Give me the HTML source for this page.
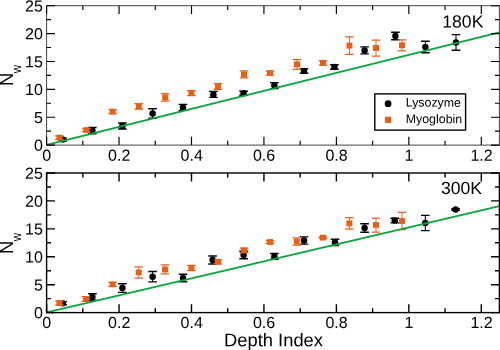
<!DOCTYPE html>
<html><head><meta charset="utf-8"><title>Depth Index</title>
<style>
html,body{margin:0;padding:0;background:#fff;}
svg{display:block;}
text{font-family:"Liberation Sans",sans-serif;fill:#000;}
.tk{font-size:16.0px;}
.ax{font-size:18.35px;}
.nn{font-size:18.3px;}
.sub{font-size:13px;}
.lg{font-size:12.4px;}
.tt{font-size:17.6px;}
</style></head><body>
<svg width="500" height="350" viewBox="0 0 500 350">
<rect width="500" height="350" fill="#fff"/>
<!-- top panel -->
<path d="M62.6 138.1V141.1" stroke="#000" stroke-width="1.05" fill="none"/>
<path d="M58.3 138.1H66.9M58.3 141.1H66.9" stroke="#000" stroke-width="1.4" fill="none"/>
<circle cx="62.6" cy="139.6" r="3.25" fill="#000"/>
<path d="M92.3 127.5V133.7" stroke="#000" stroke-width="1.05" fill="none"/>
<path d="M88.0 127.5H96.6M88.0 133.7H96.6" stroke="#000" stroke-width="1.4" fill="none"/>
<circle cx="92.3" cy="130.6" r="3.25" fill="#000"/>
<path d="M122.4 123.0V129.0" stroke="#000" stroke-width="1.05" fill="none"/>
<path d="M118.1 123.0H126.7M118.1 129.0H126.7" stroke="#000" stroke-width="1.4" fill="none"/>
<circle cx="122.4" cy="126.0" r="3.25" fill="#000"/>
<path d="M152.6 108.7V118.3" stroke="#000" stroke-width="1.05" fill="none"/>
<path d="M148.3 108.7H156.9M148.3 118.3H156.9" stroke="#000" stroke-width="1.4" fill="none"/>
<circle cx="152.6" cy="113.5" r="3.25" fill="#000"/>
<path d="M183.0 104.4V110.4" stroke="#000" stroke-width="1.05" fill="none"/>
<path d="M178.7 104.4H187.3M178.7 110.4H187.3" stroke="#000" stroke-width="1.4" fill="none"/>
<circle cx="183.0" cy="107.4" r="3.25" fill="#000"/>
<path d="M213.4 91.4V97.4" stroke="#000" stroke-width="1.05" fill="none"/>
<path d="M209.1 91.4H217.7M209.1 97.4H217.7" stroke="#000" stroke-width="1.4" fill="none"/>
<circle cx="213.4" cy="94.4" r="3.25" fill="#000"/>
<path d="M243.6 91.3V95.3" stroke="#000" stroke-width="1.05" fill="none"/>
<path d="M239.3 91.3H247.9M239.3 95.3H247.9" stroke="#000" stroke-width="1.4" fill="none"/>
<circle cx="243.6" cy="93.3" r="3.25" fill="#000"/>
<path d="M274.4 82.6V88.6" stroke="#000" stroke-width="1.05" fill="none"/>
<path d="M270.1 82.6H278.7M270.1 88.6H278.7" stroke="#000" stroke-width="1.4" fill="none"/>
<circle cx="274.4" cy="85.6" r="3.25" fill="#000"/>
<path d="M304.0 68.8V73.2" stroke="#000" stroke-width="1.05" fill="none"/>
<path d="M299.7 68.8H308.3M299.7 73.2H308.3" stroke="#000" stroke-width="1.4" fill="none"/>
<circle cx="304.0" cy="71.0" r="3.25" fill="#000"/>
<path d="M334.4 64.8V69.2" stroke="#000" stroke-width="1.05" fill="none"/>
<path d="M330.1 64.8H338.7M330.1 69.2H338.7" stroke="#000" stroke-width="1.4" fill="none"/>
<circle cx="334.4" cy="67.0" r="3.25" fill="#000"/>
<path d="M364.6 46.9V53.9" stroke="#000" stroke-width="1.05" fill="none"/>
<path d="M360.3 46.9H368.9M360.3 53.9H368.9" stroke="#000" stroke-width="1.4" fill="none"/>
<circle cx="364.6" cy="50.4" r="3.25" fill="#000"/>
<path d="M395.4 32.2V39.8" stroke="#000" stroke-width="1.05" fill="none"/>
<path d="M391.1 32.2H399.7M391.1 39.8H399.7" stroke="#000" stroke-width="1.4" fill="none"/>
<circle cx="395.4" cy="36.0" r="3.25" fill="#000"/>
<path d="M425.4 41.2V52.8" stroke="#000" stroke-width="1.05" fill="none"/>
<path d="M421.1 41.2H429.7M421.1 52.8H429.7" stroke="#000" stroke-width="1.4" fill="none"/>
<circle cx="425.4" cy="47.0" r="3.25" fill="#000"/>
<path d="M456.0 34.6V50.2" stroke="#000" stroke-width="1.05" fill="none"/>
<path d="M451.7 34.6H460.3M451.7 50.2H460.3" stroke="#000" stroke-width="1.4" fill="none"/>
<circle cx="456.0" cy="42.4" r="3.25" fill="#000"/>
<path d="M59.4 135.8V139.4" stroke="#E95F18" stroke-width="0.95" fill="none"/>
<path d="M55.1 135.8H63.7M55.1 139.4H63.7" stroke="#E95F18" stroke-width="1.25" fill="none"/>
<rect x="56.4" y="134.7" width="6.0" height="5.8" fill="#E95F18"/>
<path d="M86.4 128.5V131.5" stroke="#E95F18" stroke-width="0.95" fill="none"/>
<path d="M82.1 128.5H90.7M82.1 131.5H90.7" stroke="#E95F18" stroke-width="1.25" fill="none"/>
<rect x="83.4" y="127.1" width="6.0" height="5.8" fill="#E95F18"/>
<path d="M112.6 109.5V113.7" stroke="#E95F18" stroke-width="0.95" fill="none"/>
<path d="M108.3 109.5H116.9M108.3 113.7H116.9" stroke="#E95F18" stroke-width="1.25" fill="none"/>
<rect x="109.6" y="108.7" width="6.0" height="5.8" fill="#E95F18"/>
<path d="M138.8 103.6V109.2" stroke="#E95F18" stroke-width="0.95" fill="none"/>
<path d="M134.5 103.6H143.1M134.5 109.2H143.1" stroke="#E95F18" stroke-width="1.25" fill="none"/>
<rect x="135.8" y="103.5" width="6.0" height="5.8" fill="#E95F18"/>
<path d="M165.2 93.6V101.2" stroke="#E95F18" stroke-width="0.95" fill="none"/>
<path d="M160.9 93.6H169.5M160.9 101.2H169.5" stroke="#E95F18" stroke-width="1.25" fill="none"/>
<rect x="162.2" y="94.5" width="6.0" height="5.8" fill="#E95F18"/>
<path d="M191.4 90.5V95.5" stroke="#E95F18" stroke-width="0.95" fill="none"/>
<path d="M187.1 90.5H195.7M187.1 95.5H195.7" stroke="#E95F18" stroke-width="1.25" fill="none"/>
<rect x="188.4" y="90.1" width="6.0" height="5.8" fill="#E95F18"/>
<path d="M218.0 83.5V89.3" stroke="#E95F18" stroke-width="0.95" fill="none"/>
<path d="M213.7 83.5H222.3M213.7 89.3H222.3" stroke="#E95F18" stroke-width="1.25" fill="none"/>
<rect x="215.0" y="83.5" width="6.0" height="5.8" fill="#E95F18"/>
<path d="M244.0 70.9V77.9" stroke="#E95F18" stroke-width="0.95" fill="none"/>
<path d="M239.7 70.9H248.3M239.7 77.9H248.3" stroke="#E95F18" stroke-width="1.25" fill="none"/>
<rect x="241.0" y="71.5" width="6.0" height="5.8" fill="#E95F18"/>
<path d="M270.0 71.0V75.0" stroke="#E95F18" stroke-width="0.95" fill="none"/>
<path d="M265.7 71.0H274.3M265.7 75.0H274.3" stroke="#E95F18" stroke-width="1.25" fill="none"/>
<rect x="267.0" y="70.1" width="6.0" height="5.8" fill="#E95F18"/>
<path d="M297.0 59.5V69.3" stroke="#E95F18" stroke-width="0.95" fill="none"/>
<path d="M292.7 59.5H301.3M292.7 69.3H301.3" stroke="#E95F18" stroke-width="1.25" fill="none"/>
<rect x="294.0" y="61.5" width="6.0" height="5.8" fill="#E95F18"/>
<path d="M323.0 60.6V65.0" stroke="#E95F18" stroke-width="0.95" fill="none"/>
<path d="M318.7 60.6H327.3M318.7 65.0H327.3" stroke="#E95F18" stroke-width="1.25" fill="none"/>
<rect x="320.0" y="59.9" width="6.0" height="5.8" fill="#E95F18"/>
<path d="M349.4 36.8V54.4" stroke="#E95F18" stroke-width="0.95" fill="none"/>
<path d="M345.1 36.8H353.7M345.1 54.4H353.7" stroke="#E95F18" stroke-width="1.25" fill="none"/>
<rect x="346.4" y="42.7" width="6.0" height="5.8" fill="#E95F18"/>
<path d="M376.0 40.0V56.0" stroke="#E95F18" stroke-width="0.95" fill="none"/>
<path d="M371.7 40.0H380.3M371.7 56.0H380.3" stroke="#E95F18" stroke-width="1.25" fill="none"/>
<rect x="373.0" y="45.1" width="6.0" height="5.8" fill="#E95F18"/>
<path d="M402.0 39.8V50.8" stroke="#E95F18" stroke-width="0.95" fill="none"/>
<path d="M397.7 39.8H406.3M397.7 50.8H406.3" stroke="#E95F18" stroke-width="1.25" fill="none"/>
<rect x="399.0" y="42.4" width="6.0" height="5.8" fill="#E95F18"/>
<path d="M46.6 144.9L499.4 32.3" stroke="#08A53C" stroke-width="1.9" fill="none"/>
<rect x="46.6" y="5.7" width="452.8" height="139.4" fill="none" stroke="#444" stroke-width="1.0"/>
<path d="M46.60 145.1v-8.4M46.60 5.7v8.4M82.82 145.1v-4.4M82.82 5.7v4.4M119.05 145.1v-8.4M119.05 5.7v8.4M155.27 145.1v-4.4M155.27 5.7v4.4M191.50 145.1v-8.4M191.50 5.7v8.4M227.72 145.1v-4.4M227.72 5.7v4.4M263.94 145.1v-8.4M263.94 5.7v8.4M300.17 145.1v-4.4M300.17 5.7v4.4M336.39 145.1v-8.4M336.39 5.7v8.4M372.62 145.1v-4.4M372.62 5.7v4.4M408.84 145.1v-8.4M408.84 5.7v8.4M445.06 145.1v-4.4M445.06 5.7v4.4M481.29 145.1v-8.4M481.29 5.7v8.4M46.6 145.10h8.4M499.4 145.10h-8.4M46.6 131.16h4.4M499.4 131.16h-4.4M46.6 117.22h8.4M499.4 117.22h-8.4M46.6 103.28h4.4M499.4 103.28h-4.4M46.6 89.34h8.4M499.4 89.34h-8.4M46.6 75.40h4.4M499.4 75.40h-4.4M46.6 61.46h8.4M499.4 61.46h-8.4M46.6 47.52h4.4M499.4 47.52h-4.4M46.6 33.58h8.4M499.4 33.58h-8.4M46.6 19.64h4.4M499.4 19.64h-4.4M46.6 5.70h8.4M499.4 5.70h-8.4" stroke="#000" stroke-width="1.15" fill="none"/>
<text transform="translate(46.8 160.7) rotate(0.04)" text-anchor="middle" class="tk">0</text>
<text transform="translate(119.2 160.7) rotate(0.04)" text-anchor="middle" class="tk">0.2</text>
<text transform="translate(191.7 160.7) rotate(0.04)" text-anchor="middle" class="tk">0.4</text>
<text transform="translate(264.1 160.7) rotate(0.04)" text-anchor="middle" class="tk">0.6</text>
<text transform="translate(336.6 160.7) rotate(0.04)" text-anchor="middle" class="tk">0.8</text>
<text transform="translate(409.0 160.7) rotate(0.04)" text-anchor="middle" class="tk">1</text>
<text transform="translate(481.5 160.7) rotate(0.04)" text-anchor="middle" class="tk">1.2</text>
<text transform="translate(42.8 150.85) rotate(0.04)" text-anchor="end" class="tk">0</text>
<text transform="translate(42.8 122.97) rotate(0.04)" text-anchor="end" class="tk">5</text>
<text transform="translate(42.8 95.09) rotate(0.04)" text-anchor="end" class="tk">10</text>
<text transform="translate(42.8 67.21) rotate(0.04)" text-anchor="end" class="tk">15</text>
<text transform="translate(42.8 39.33) rotate(0.04)" text-anchor="end" class="tk">20</text>
<text transform="translate(42.8 11.45) rotate(0.04)" text-anchor="end" class="tk">25</text>
<text transform="translate(442.3 27.5) rotate(0.04)" class="tt">180K</text>
<rect x="374.8" y="93.9" width="90.8" height="36.2" fill="#fff" stroke="#000" stroke-width="1.4"/>
<circle cx="388.1" cy="103.7" r="3.4" fill="#000"/>
<rect x="385" y="116.7" width="6.2" height="6.2" fill="#E95F18"/>
<text transform="translate(405.7 106.6) rotate(0.04)" class="lg">Lysozyme</text>
<text transform="translate(405.7 123.1) rotate(0.04)" class="lg">Myoglobin</text>
<text transform="translate(13.4 86.0) rotate(-90)" class="nn">N</text><text transform="translate(20.7 73.2) rotate(-90) scale(0.89 1.02)" class="sub">w</text>
<!-- bottom panel -->
<path d="M62.6 301.6V304.8" stroke="#000" stroke-width="1.05" fill="none"/>
<path d="M58.3 301.6H66.9M58.3 304.8H66.9" stroke="#000" stroke-width="1.4" fill="none"/>
<circle cx="62.6" cy="303.2" r="3.25" fill="#000"/>
<path d="M92.4 293.8V300.2" stroke="#000" stroke-width="1.05" fill="none"/>
<path d="M88.1 293.8H96.7M88.1 300.2H96.7" stroke="#000" stroke-width="1.4" fill="none"/>
<circle cx="92.4" cy="297.0" r="3.25" fill="#000"/>
<path d="M122.4 283.8V292.4" stroke="#000" stroke-width="1.05" fill="none"/>
<path d="M118.1 283.8H126.7M118.1 292.4H126.7" stroke="#000" stroke-width="1.4" fill="none"/>
<circle cx="122.4" cy="288.1" r="3.25" fill="#000"/>
<path d="M152.6 271.5V281.9" stroke="#000" stroke-width="1.05" fill="none"/>
<path d="M148.3 271.5H156.9M148.3 281.9H156.9" stroke="#000" stroke-width="1.4" fill="none"/>
<circle cx="152.6" cy="276.7" r="3.25" fill="#000"/>
<path d="M183.0 274.3V281.7" stroke="#000" stroke-width="1.05" fill="none"/>
<path d="M178.7 274.3H187.3M178.7 281.7H187.3" stroke="#000" stroke-width="1.4" fill="none"/>
<circle cx="183.0" cy="278.0" r="3.25" fill="#000"/>
<path d="M212.6 256.0V264.0" stroke="#000" stroke-width="1.05" fill="none"/>
<path d="M208.3 256.0H216.9M208.3 264.0H216.9" stroke="#000" stroke-width="1.4" fill="none"/>
<circle cx="212.6" cy="260.0" r="3.25" fill="#000"/>
<path d="M243.6 251.2V258.8" stroke="#000" stroke-width="1.05" fill="none"/>
<path d="M239.3 251.2H247.9M239.3 258.8H247.9" stroke="#000" stroke-width="1.4" fill="none"/>
<circle cx="243.6" cy="255.0" r="3.25" fill="#000"/>
<path d="M274.4 253.5V259.3" stroke="#000" stroke-width="1.05" fill="none"/>
<path d="M270.1 253.5H278.7M270.1 259.3H278.7" stroke="#000" stroke-width="1.4" fill="none"/>
<circle cx="274.4" cy="256.4" r="3.25" fill="#000"/>
<path d="M304.0 236.9V244.1" stroke="#000" stroke-width="1.05" fill="none"/>
<path d="M299.7 236.9H308.3M299.7 244.1H308.3" stroke="#000" stroke-width="1.4" fill="none"/>
<circle cx="304.0" cy="240.5" r="3.25" fill="#000"/>
<path d="M335.0 239.3V245.5" stroke="#000" stroke-width="1.05" fill="none"/>
<path d="M330.7 239.3H339.3M330.7 245.5H339.3" stroke="#000" stroke-width="1.4" fill="none"/>
<circle cx="335.0" cy="242.4" r="3.25" fill="#000"/>
<path d="M364.6 223.7V232.3" stroke="#000" stroke-width="1.05" fill="none"/>
<path d="M360.3 223.7H368.9M360.3 232.3H368.9" stroke="#000" stroke-width="1.4" fill="none"/>
<circle cx="364.6" cy="228.0" r="3.25" fill="#000"/>
<path d="M394.7 218.3V222.9" stroke="#000" stroke-width="1.05" fill="none"/>
<path d="M390.4 218.3H399.0M390.4 222.9H399.0" stroke="#000" stroke-width="1.4" fill="none"/>
<circle cx="394.7" cy="220.6" r="3.25" fill="#000"/>
<path d="M425.3 215.4V230.6" stroke="#000" stroke-width="1.05" fill="none"/>
<path d="M421.0 215.4H429.6M421.0 230.6H429.6" stroke="#000" stroke-width="1.4" fill="none"/>
<circle cx="425.3" cy="223.0" r="3.25" fill="#000"/>
<path d="M455.6 208.6V210.2" stroke="#000" stroke-width="1.05" fill="none"/>
<path d="M451.3 208.6H459.9M451.3 210.2H459.9" stroke="#000" stroke-width="1.4" fill="none"/>
<circle cx="455.6" cy="209.4" r="3.25" fill="#000"/>
<path d="M59.4 301.0V305.0" stroke="#E95F18" stroke-width="0.95" fill="none"/>
<path d="M55.1 301.0H63.7M55.1 305.0H63.7" stroke="#E95F18" stroke-width="1.25" fill="none"/>
<rect x="56.4" y="300.1" width="6.0" height="5.8" fill="#E95F18"/>
<path d="M86.0 296.6V301.4" stroke="#E95F18" stroke-width="0.95" fill="none"/>
<path d="M81.7 296.6H90.3M81.7 301.4H90.3" stroke="#E95F18" stroke-width="1.25" fill="none"/>
<rect x="83.0" y="296.1" width="6.0" height="5.8" fill="#E95F18"/>
<path d="M112.6 282.4V286.4" stroke="#E95F18" stroke-width="0.95" fill="none"/>
<path d="M108.3 282.4H116.9M108.3 286.4H116.9" stroke="#E95F18" stroke-width="1.25" fill="none"/>
<rect x="109.6" y="281.5" width="6.0" height="5.8" fill="#E95F18"/>
<path d="M138.7 266.8V278.0" stroke="#E95F18" stroke-width="0.95" fill="none"/>
<path d="M134.4 266.8H143.0M134.4 278.0H143.0" stroke="#E95F18" stroke-width="1.25" fill="none"/>
<rect x="135.7" y="269.5" width="6.0" height="5.8" fill="#E95F18"/>
<path d="M165.0 264.9V273.9" stroke="#E95F18" stroke-width="0.95" fill="none"/>
<path d="M160.7 264.9H169.3M160.7 273.9H169.3" stroke="#E95F18" stroke-width="1.25" fill="none"/>
<rect x="162.0" y="266.5" width="6.0" height="5.8" fill="#E95F18"/>
<path d="M191.4 265.4V270.6" stroke="#E95F18" stroke-width="0.95" fill="none"/>
<path d="M187.1 265.4H195.7M187.1 270.6H195.7" stroke="#E95F18" stroke-width="1.25" fill="none"/>
<rect x="188.4" y="265.1" width="6.0" height="5.8" fill="#E95F18"/>
<path d="M218.0 259.8V263.8" stroke="#E95F18" stroke-width="0.95" fill="none"/>
<path d="M213.7 259.8H222.3M213.7 263.8H222.3" stroke="#E95F18" stroke-width="1.25" fill="none"/>
<rect x="215.0" y="258.9" width="6.0" height="5.8" fill="#E95F18"/>
<path d="M244.0 248.1V252.7" stroke="#E95F18" stroke-width="0.95" fill="none"/>
<path d="M239.7 248.1H248.3M239.7 252.7H248.3" stroke="#E95F18" stroke-width="1.25" fill="none"/>
<rect x="241.0" y="247.5" width="6.0" height="5.8" fill="#E95F18"/>
<path d="M270.0 240.6V243.4" stroke="#E95F18" stroke-width="0.95" fill="none"/>
<path d="M265.7 240.6H274.3M265.7 243.4H274.3" stroke="#E95F18" stroke-width="1.25" fill="none"/>
<rect x="267.0" y="239.1" width="6.0" height="5.8" fill="#E95F18"/>
<path d="M296.8 237.9V245.1" stroke="#E95F18" stroke-width="0.95" fill="none"/>
<path d="M292.5 237.9H301.1M292.5 245.1H301.1" stroke="#E95F18" stroke-width="1.25" fill="none"/>
<rect x="293.8" y="238.6" width="6.0" height="5.8" fill="#E95F18"/>
<path d="M323.0 236.8V238.4" stroke="#E95F18" stroke-width="0.95" fill="none"/>
<path d="M318.7 236.8H327.3M318.7 238.4H327.3" stroke="#E95F18" stroke-width="1.25" fill="none"/>
<rect x="320.0" y="234.7" width="6.0" height="5.8" fill="#E95F18"/>
<path d="M349.4 217.6V229.2" stroke="#E95F18" stroke-width="0.95" fill="none"/>
<path d="M345.1 217.6H353.7M345.1 229.2H353.7" stroke="#E95F18" stroke-width="1.25" fill="none"/>
<rect x="346.4" y="220.5" width="6.0" height="5.8" fill="#E95F18"/>
<path d="M376.0 218.0V232.0" stroke="#E95F18" stroke-width="0.95" fill="none"/>
<path d="M371.7 218.0H380.3M371.7 232.0H380.3" stroke="#E95F18" stroke-width="1.25" fill="none"/>
<rect x="373.0" y="222.1" width="6.0" height="5.8" fill="#E95F18"/>
<path d="M402.0 212.3V229.7" stroke="#E95F18" stroke-width="0.95" fill="none"/>
<path d="M397.7 212.3H406.3M397.7 229.7H406.3" stroke="#E95F18" stroke-width="1.25" fill="none"/>
<rect x="399.0" y="218.1" width="6.0" height="5.8" fill="#E95F18"/>
<path d="M46.6 312.4L499.4 206.2" stroke="#08A53C" stroke-width="1.9" fill="none"/>
<rect x="46.6" y="173.0" width="452.8" height="139.6" fill="none" stroke="#000" stroke-width="1.4"/>
<path d="M46.60 312.6v-8.4M46.60 173.0v8.4M82.82 312.6v-4.4M82.82 173.0v4.4M119.05 312.6v-8.4M119.05 173.0v8.4M155.27 312.6v-4.4M155.27 173.0v4.4M191.50 312.6v-8.4M191.50 173.0v8.4M227.72 312.6v-4.4M227.72 173.0v4.4M263.94 312.6v-8.4M263.94 173.0v8.4M300.17 312.6v-4.4M300.17 173.0v4.4M336.39 312.6v-8.4M336.39 173.0v8.4M372.62 312.6v-4.4M372.62 173.0v4.4M408.84 312.6v-8.4M408.84 173.0v8.4M445.06 312.6v-4.4M445.06 173.0v4.4M481.29 312.6v-8.4M481.29 173.0v8.4M46.6 312.60h8.4M499.4 312.60h-8.4M46.6 298.64h4.4M499.4 298.64h-4.4M46.6 284.68h8.4M499.4 284.68h-8.4M46.6 270.72h4.4M499.4 270.72h-4.4M46.6 256.76h8.4M499.4 256.76h-8.4M46.6 242.80h4.4M499.4 242.80h-4.4M46.6 228.84h8.4M499.4 228.84h-8.4M46.6 214.88h4.4M499.4 214.88h-4.4M46.6 200.92h8.4M499.4 200.92h-8.4M46.6 186.96h4.4M499.4 186.96h-4.4M46.6 173.00h8.4M499.4 173.00h-8.4" stroke="#000" stroke-width="1.4" fill="none"/>
<text transform="translate(46.8 328.1) rotate(0.04)" text-anchor="middle" class="tk">0</text>
<text transform="translate(119.2 328.1) rotate(0.04)" text-anchor="middle" class="tk">0.2</text>
<text transform="translate(191.7 328.1) rotate(0.04)" text-anchor="middle" class="tk">0.4</text>
<text transform="translate(264.1 328.1) rotate(0.04)" text-anchor="middle" class="tk">0.6</text>
<text transform="translate(336.6 328.1) rotate(0.04)" text-anchor="middle" class="tk">0.8</text>
<text transform="translate(409.0 328.1) rotate(0.04)" text-anchor="middle" class="tk">1</text>
<text transform="translate(481.5 328.1) rotate(0.04)" text-anchor="middle" class="tk">1.2</text>
<text transform="translate(42.8 318.35) rotate(0.04)" text-anchor="end" class="tk">0</text>
<text transform="translate(42.8 290.43) rotate(0.04)" text-anchor="end" class="tk">5</text>
<text transform="translate(42.8 262.51) rotate(0.04)" text-anchor="end" class="tk">10</text>
<text transform="translate(42.8 234.59) rotate(0.04)" text-anchor="end" class="tk">15</text>
<text transform="translate(42.8 206.67) rotate(0.04)" text-anchor="end" class="tk">20</text>
<text transform="translate(42.8 178.75) rotate(0.04)" text-anchor="end" class="tk">25</text>
<text transform="translate(440.9 193.9) rotate(0.04)" class="tt">300K</text>
<text transform="translate(13.4 254.0) rotate(-90)" class="nn">N</text><text transform="translate(20.7 241.2) rotate(-90) scale(0.89 1.02)" class="sub">w</text>
<text transform="translate(273.5 346.3) rotate(0.04)" text-anchor="middle" class="ax">Depth Index</text>
</svg>
</body></html>
